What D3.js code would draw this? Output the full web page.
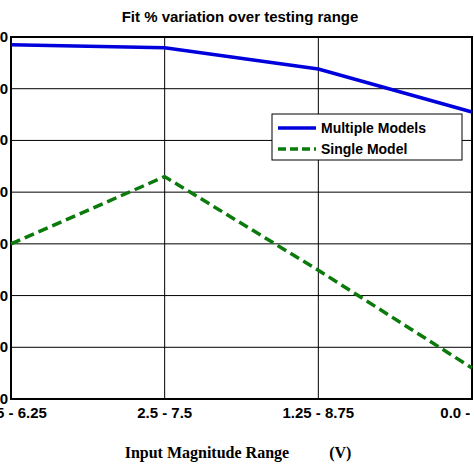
<!DOCTYPE html><html><head><script src="https://cdn.jsdelivr.net/npm/d3@7"></script>
<style>body{margin:0;background:#fff}</style></head><body><svg id="c" width="474" height="474"></svg>
<script>
const categories=["3.75 - 6.25","2.5 - 7.5","1.25 - 8.75","0.0 - 10.0"];
const multiple=[98.5,97.9,93.8,85.5];
const single=[60,73,54.9,36];
const yTicks=[30,40,50,60,70,80,90,100];
const svg=d3.select("#c");
const L=11,R=472,T=37,B=399;
const x=d3.scalePoint().domain(categories).range([L,R]);
const y=d3.scaleLinear().domain([30,100]).range([B,T]);
const g=svg.append("g");
g.selectAll(".h").data(yTicks).join("line").attr("x1",L).attr("x2",R).attr("y1",d=>y(d)).attr("y2",d=>y(d)).attr("stroke","#000").attr("stroke-width",1);
g.selectAll(".v").data(categories).join("line").attr("x1",d=>x(d)).attr("x2",d=>x(d)).attr("y1",T).attr("y2",B).attr("stroke","#000").attr("stroke-width",1);
g.append("rect").attr("x",L).attr("y",T).attr("width",R-L).attr("height",B-T).attr("fill","none").attr("stroke","#000").attr("stroke-width",2);
g.selectAll(".yt").data(yTicks).join("text").attr("x",L-3).attr("y",d=>y(d)+5).attr("text-anchor","end")
 .attr("font-family","Liberation Sans, Arial").attr("font-weight","bold").attr("font-size",15).text(d=>d);
g.selectAll(".xt").data(categories).join("text").attr("x",d=>x(d)).attr("y",418).attr("text-anchor","middle")
 .attr("font-family","Liberation Sans, Arial").attr("font-weight","bold").attr("font-size",15).text(d=>d);
const line=d3.line().x((d,i)=>x(categories[i])).y(d=>y(d));
g.append("path").attr("d",line(multiple)).attr("fill","none").attr("stroke","#0000dd").attr("stroke-width",3.5);
g.append("path").attr("d",line(single)).attr("fill","none").attr("stroke","#0a7a0a").attr("stroke-width",3.5).attr("stroke-dasharray","10,5");
svg.append("text").attr("x",240).attr("y",22).attr("text-anchor","middle").attr("font-family","Liberation Sans, Arial").attr("font-weight","bold").attr("font-size",15).text("Fit % variation over testing range");
svg.append("text").attr("x",238).attr("y",458).attr("text-anchor","middle").attr("font-family","Liberation Serif, Times New Roman").attr("font-weight","bold").attr("font-size",16).attr("xml:space","preserve").text("Input Magnitude Range          (V)");
const lg=svg.append("g");
lg.append("rect").attr("x",272).attr("y",114).attr("width",190).attr("height",46).attr("fill","#fff").attr("stroke","#000").attr("stroke-width",1);
[["Multiple Models","#0000dd",null],["Single Model","#0a7a0a","8,4"]].forEach((d,i)=>{
 const yy=128+i*21;
 lg.append("line").attr("x1",278).attr("x2",316).attr("y1",yy).attr("y2",yy).attr("stroke",d[1]).attr("stroke-width",3.5).attr("stroke-dasharray",d[2]);
 lg.append("text").attr("x",321).attr("y",yy+5).attr("font-family","Liberation Sans, Arial").attr("font-weight","bold").attr("font-size",14).text(d[0]);
});
</script></body></html>
